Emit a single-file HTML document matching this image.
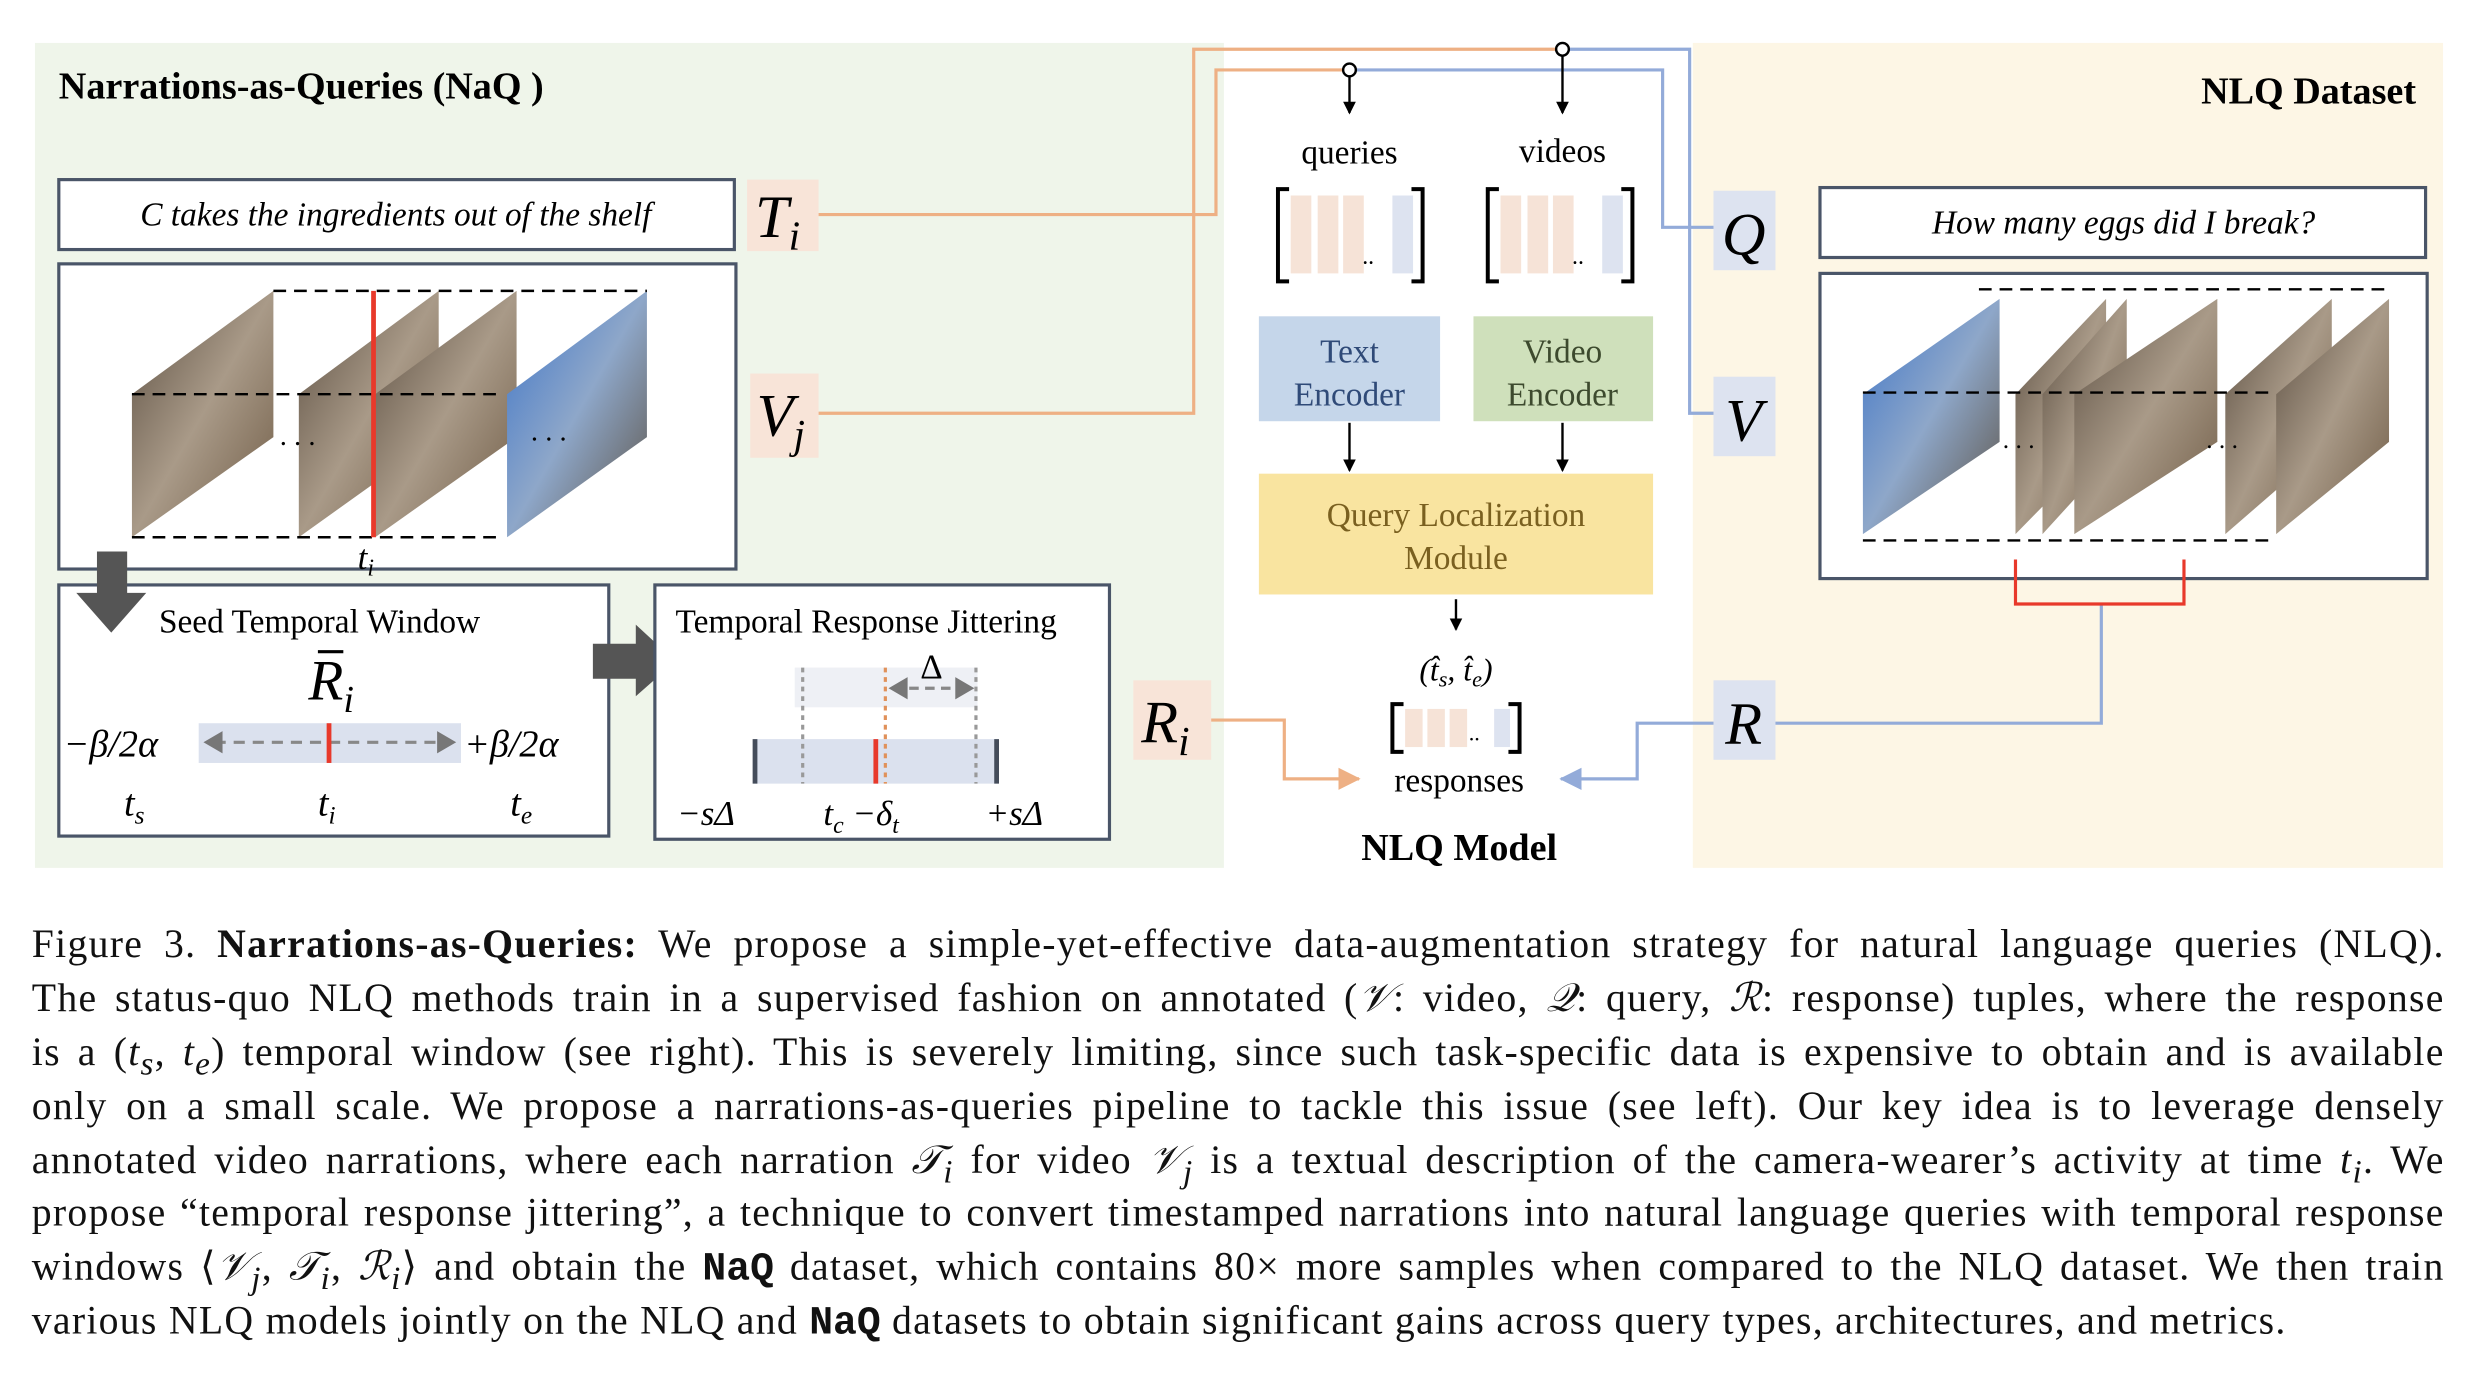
<!DOCTYPE html>
<html><head><meta charset="utf-8"><style>
html,body{margin:0;padding:0;background:#fff;overflow:hidden;width:2492px;height:1376px}
#w{position:absolute;left:0;top:0;width:1560px;height:866px;transform:scale(1.5895);transform-origin:0 0}
svg{position:absolute;left:0;top:0}
.cap{position:absolute;left:20px;width:1518px;top:578px;font-family:"Liberation Serif",serif;font-size:25px;letter-spacing:0.8px;color:#111}
.cap div{height:33.9px;line-height:33.9px;text-align:justify;text-align-last:justify;white-space:nowrap}
.cap div.l{text-align-last:left}
.m{font-family:"Liberation Mono",monospace;font-weight:bold;letter-spacing:0}
i{font-style:italic}
</style></head><body><div id="w">
<svg width="1560" height="561" viewBox="0 0 1560 561" font-family="Liberation Serif, serif">
<defs>
<linearGradient id="f1" x1="0" y1="0" x2="1" y2="1"><stop offset="0" stop-color="#5a4d40"/><stop offset=".5" stop-color="#a99a88"/><stop offset="1" stop-color="#6e5a44"/></linearGradient>
<linearGradient id="f2" x1="0" y1="0" x2="1" y2="1"><stop offset="0" stop-color="#3d74c8"/><stop offset=".5" stop-color="#8ea7c9"/><stop offset="1" stop-color="#5b5144"/></linearGradient>
<marker id="ab" markerWidth="8" markerHeight="8" refX="7" refY="4" orient="auto" markerUnits="userSpaceOnUse"><path d="M0,0 L8,4 L0,8z" fill="#000"/></marker>
<marker id="ao" markerWidth="14" markerHeight="14" refX="13" refY="7" orient="auto" markerUnits="userSpaceOnUse"><path d="M0,0 L14,7 L0,14z" fill="#eeb084"/></marker>
<marker id="abl" markerWidth="14" markerHeight="14" refX="13" refY="7" orient="auto" markerUnits="userSpaceOnUse"><path d="M0,0 L14,7 L0,14z" fill="#93abd9"/></marker>
</defs>
<rect x="22" y="27" width="748" height="519" fill="#eff5ea"/>
<rect x="1065" y="27" width="472" height="519" fill="#fdf6e5"/>
<text x="37" y="62" font-size="24" font-weight="bold">Narrations-as-Queries (NaQ )</text>
<text x="1520" y="65" font-size="24" font-weight="bold" text-anchor="end">NLQ Dataset</text>
<text x="918" y="541" font-size="24" font-weight="bold" text-anchor="middle">NLQ Model</text>
<rect x="37" y="113" width="425" height="44" fill="#fff" stroke="#4a5568" stroke-width="2"/>
<text x="249" y="142" font-size="21" font-style="italic" text-anchor="middle">C takes the ingredients out of the shelf</text>
<rect x="37" y="166" width="426" height="192" fill="#fff" stroke="#4a5568" stroke-width="2"/>
<g>
<polygon points="83,248 172,183 172,275 83,338" fill="url(#f1)"/>
<polygon points="188,248 276,183 276,275 188,338" fill="url(#f1)"/>
<polygon points="236,248 325,183 325,275 236,338" fill="url(#f1)"/>
<polygon points="319,248 407,183 407,275 319,338" fill="url(#f2)"/>
<line x1="172" y1="183" x2="407" y2="183" stroke="#000" stroke-width="1.5" stroke-dasharray="8,5"/>
<line x1="83" y1="248" x2="315" y2="248" stroke="#000" stroke-width="1.5" stroke-dasharray="8,5"/>
<line x1="83" y1="338" x2="315" y2="338" stroke="#000" stroke-width="1.5" stroke-dasharray="8,5"/>
<line x1="235" y1="183" x2="235" y2="338" stroke="#e8392b" stroke-width="3"/>
<text x="176" y="280" font-size="18">. . .</text><text x="334" y="277" font-size="18">. . .</text>
<text x="225" y="358" font-size="22" font-style="italic">t<tspan font-size="15" dy="4">i</tspan></text>
</g>
<rect x="470" y="113" width="45" height="45" fill="#f8e4d8"/>
<text x="475" y="149" font-size="38" font-style="italic">T<tspan font-size="26" dy="8">i</tspan></text>
<rect x="472" y="235" width="43" height="53" fill="#f8e4d8"/>
<text x="476" y="274" font-size="38" font-style="italic">V<tspan font-size="26" dy="8">j</tspan></text>
<rect x="713" y="428" width="49" height="50" fill="#f8e4d8"/>
<text x="718" y="467" font-size="38" font-style="italic">R<tspan font-size="26" dy="8">i</tspan></text>
<rect x="1078" y="120" width="39" height="50" fill="#dde3f0"/>
<text x="1097" y="160" font-size="38" font-style="italic" text-anchor="middle">Q</text>
<rect x="1078" y="237" width="39" height="50" fill="#dde3f0"/>
<text x="1097" y="277" font-size="38" font-style="italic" text-anchor="middle">V</text>
<rect x="1078" y="428" width="39" height="50" fill="#dde3f0"/>
<text x="1097" y="468" font-size="38" font-style="italic" text-anchor="middle">R</text>
<polyline points="515,135 765,135 765,44 845,44" fill="none" stroke="#eeb084" stroke-width="2"/>
<polyline points="515,260 751,260 751,31 979,31" fill="none" stroke="#eeb084" stroke-width="2"/>
<polyline points="853,44 1046,44 1046,143 1078,143" fill="none" stroke="#93abd9" stroke-width="2"/>
<polyline points="987,31 1063,31 1063,260 1078,260" fill="none" stroke="#93abd9" stroke-width="2"/>
<circle cx="849" cy="44" r="4" fill="#fff" stroke="#000" stroke-width="1.5"/>
<circle cx="983" cy="31" r="4" fill="#fff" stroke="#000" stroke-width="1.5"/>
<line x1="849" y1="48" x2="849" y2="71" stroke="#000" stroke-width="1.5" marker-end="url(#ab)"/>
<line x1="983" y1="35" x2="983" y2="71" stroke="#000" stroke-width="1.5" marker-end="url(#ab)"/>
<polyline points="762,453 808,453 808,490 855,490" fill="none" stroke="#eeb084" stroke-width="2" marker-end="url(#ao)"/>
<polyline points="1078,455 1030,455 1030,490 982,490" fill="none" stroke="#93abd9" stroke-width="2" marker-end="url(#abl)"/>
<polyline points="1117,455 1322,455 1322,380" fill="none" stroke="#93abd9" stroke-width="2"/>
<text x="849" y="103" font-size="21" text-anchor="middle">queries</text>
<text x="983" y="102" font-size="21" text-anchor="middle">videos</text>
<g id="br1">
<path d="M811,119 H804 V177 H811 M888,119 H895 V177 H888" fill="none" stroke="#000" stroke-width="2.5"/>
<rect x="812" y="123" width="13" height="49" fill="#f6e3d7"/><rect x="829" y="123" width="13" height="49" fill="#f6e3d7"/><rect x="845" y="123" width="13" height="49" fill="#f6e3d7"/>
<text x="857" y="166" font-size="15">..</text>
<rect x="876" y="123" width="13" height="49" fill="#dde3f0"/>
</g>
<use href="#br1" transform="translate(132,0)"/>
<rect x="792" y="199" width="114" height="66" fill="#c5d6ea"/>
<text x="849" y="228" font-size="21" fill="#2f4a78" text-anchor="middle">Text</text>
<text x="849" y="255" font-size="21" fill="#2f4a78" text-anchor="middle">Encoder</text>
<rect x="927" y="199" width="113" height="66" fill="#cfe0bb"/>
<text x="983" y="228" font-size="21" fill="#3d4a2e" text-anchor="middle">Video</text>
<text x="983" y="255" font-size="21" fill="#3d4a2e" text-anchor="middle">Encoder</text>
<line x1="849" y1="266" x2="849" y2="296" stroke="#000" stroke-width="1.5" marker-end="url(#ab)"/>
<line x1="983" y1="266" x2="983" y2="296" stroke="#000" stroke-width="1.5" marker-end="url(#ab)"/>
<rect x="792" y="298" width="248" height="76" fill="#f9e4a0"/>
<text x="916" y="331" font-size="21" fill="#7a6020" text-anchor="middle">Query Localization</text>
<text x="916" y="358" font-size="21" fill="#7a6020" text-anchor="middle">Module</text>
<line x1="916" y1="377" x2="916" y2="396" stroke="#000" stroke-width="1.5" marker-end="url(#ab)"/>
<text x="916" y="428" font-size="20" font-style="italic" text-anchor="middle">(t̂<tspan font-size="14" dy="4">s</tspan><tspan dy="-4">, t̂</tspan><tspan font-size="14" dy="4">e</tspan><tspan dy="-4">)</tspan></text>
<path d="M883,443 H876 V473 H883 M949,443 H956 V473 H949" fill="none" stroke="#000" stroke-width="2.5"/>
<rect x="884" y="446" width="11" height="24" fill="#f6e3d7"/><rect x="898" y="446" width="11" height="24" fill="#f6e3d7"/><rect x="912" y="446" width="11" height="24" fill="#f6e3d7"/>
<text x="924" y="466" font-size="14">..</text><rect x="940" y="446" width="10" height="24" fill="#dde3f0"/>
<text x="918" y="498" font-size="21" text-anchor="middle">responses</text>
<rect x="1145" y="118" width="381" height="44" fill="#fff" stroke="#4a5568" stroke-width="2"/>
<text x="1336" y="147" font-size="21" font-style="italic" text-anchor="middle">How many eggs did I break?</text>
<rect x="1145" y="172" width="382" height="192" fill="#fff" stroke="#4a5568" stroke-width="2"/>
<polygon points="1172,248 1258,188 1258,278 1172,336" fill="url(#f2)"/>
<polygon points="1268,248 1325,188 1325,278 1268,336" fill="url(#f1)"/>
<polygon points="1285,248 1338,188 1338,278 1285,336" fill="url(#f1)"/>
<polygon points="1305,248 1395,188 1395,278 1305,336" fill="url(#f1)"/>
<polygon points="1400,248 1467,188 1467,278 1400,336" fill="url(#f1)"/>
<polygon points="1432,248 1503,188 1503,278 1432,336" fill="url(#f1)"/>
<line x1="1245" y1="182" x2="1500" y2="182" stroke="#000" stroke-width="1.5" stroke-dasharray="8,5"/>
<line x1="1172" y1="247" x2="1430" y2="247" stroke="#000" stroke-width="1.5" stroke-dasharray="8,5"/>
<line x1="1172" y1="340" x2="1430" y2="340" stroke="#000" stroke-width="1.5" stroke-dasharray="8,5"/>
<text x="1260" y="282" font-size="16">. . .</text><text x="1388" y="282" font-size="16">. . .</text>
<polyline points="1268,352 1268,380 1374,380 1374,352" fill="none" stroke="#e8392b" stroke-width="2"/>
<rect x="37" y="368" width="346" height="158" fill="#fff" stroke="#4a5568" stroke-width="2"/>
<polygon points="61,347 80,347 80,373 92,373 70,398 48,373 61,373" fill="#555"/>
<text x="100" y="398" font-size="21">Seed Temporal Window</text>
<text x="194" y="440" font-size="36" font-style="italic">R<tspan font-size="24" dy="8">i</tspan></text>
<line x1="200" y1="410" x2="216" y2="410" stroke="#000" stroke-width="2"/>
<rect x="125" y="455" width="165" height="25" fill="#dbe1ee"/>
<line x1="135" y1="467" x2="282" y2="467" stroke="#888" stroke-width="2" stroke-dasharray="7,5"/>
<path d="M128,467 L140,460 L140,474z M287,467 L275,460 L275,474z" fill="#777"/>
<line x1="207" y1="455" x2="207" y2="480" stroke="#e8392b" stroke-width="3"/>
<text x="40" y="476" font-size="24" font-style="italic">−β/2α</text>
<text x="292" y="476" font-size="24" font-style="italic">+β/2α</text>
<text x="78" y="513" font-size="24" font-style="italic">t<tspan font-size="16" dy="5">s</tspan></text>
<text x="200" y="513" font-size="24" font-style="italic">t<tspan font-size="16" dy="5">i</tspan></text>
<text x="321" y="513" font-size="24" font-style="italic">t<tspan font-size="16" dy="5">e</tspan></text>
<polygon points="373,405 400,405 400,393 425,416 400,438 400,427 373,427" fill="#555"/>
<rect x="412" y="368" width="286" height="160" fill="#fff" stroke="#4a5568" stroke-width="2"/>
<text x="425" y="398" font-size="21">Temporal Response Jittering</text>
<rect x="500" y="420" width="115" height="25" fill="#eef0f5"/>
<rect x="474" y="465" width="154" height="28" fill="#dbe1ee"/>
<line x1="475" y1="465" x2="475" y2="493" stroke="#444c5a" stroke-width="3"/>
<line x1="627" y1="465" x2="627" y2="493" stroke="#444c5a" stroke-width="3"/>
<line x1="505" y1="420" x2="505" y2="493" stroke="#999" stroke-width="2" stroke-dasharray="3,3"/>
<line x1="614" y1="420" x2="614" y2="493" stroke="#999" stroke-width="2" stroke-dasharray="3,3"/>
<line x1="557" y1="420" x2="557" y2="493" stroke="#e0915a" stroke-width="2" stroke-dasharray="3,3"/>
<line x1="551" y1="465" x2="551" y2="493" stroke="#e8392b" stroke-width="3"/>
<line x1="562" y1="433" x2="611" y2="433" stroke="#888" stroke-width="2" stroke-dasharray="6,4"/>
<path d="M559,433 L571,426 L571,440z M613,433 L601,426 L601,440z" fill="#777"/>
<text x="586" y="427" font-size="22" text-anchor="middle">Δ</text>
<text x="426" y="519" font-size="22" font-style="italic">−sΔ</text>
<text x="518" y="519" font-size="22" font-style="italic">t<tspan font-size="15" dy="5">c</tspan><tspan dy="-5"> −δ</tspan><tspan font-size="15" dy="5">t</tspan></text>
<text x="620" y="519" font-size="22" font-style="italic">+sΔ</text>
</svg>
<div class="cap">
<div>Figure 3. <b>Narrations-as-Queries:</b> We propose a simple-yet-effective data-augmentation strategy for natural language queries (NLQ).</div>
<div>The status-quo NLQ methods train in a supervised fashion on annotated (<i>𝒱</i>: video, <i>𝒬</i>: query, <i>ℛ</i>: response) tuples, where the response</div>
<div>is a (<i>t<sub>s</sub></i>, <i>t<sub>e</sub></i>) temporal window (see right). This is severely limiting, since such task-specific data is expensive to obtain and is available</div>
<div>only on a small scale. We propose a narrations-as-queries pipeline to tackle this issue (see left). Our key idea is to leverage densely</div>
<div>annotated video narrations, where each narration <i>𝒯<sub>i</sub></i> for video <i>𝒱<sub>j</sub></i> is a textual description of the camera-wearer’s activity at time <i>t<sub>i</sub></i>. We</div>
<div>propose “temporal response jittering”, a technique to convert timestamped narrations into natural language queries with temporal response</div>
<div>windows ⟨<i>𝒱<sub>j</sub></i>, <i>𝒯<sub>i</sub></i>, <i>ℛ<sub>i</sub></i>⟩ and obtain the <span class="m">NaQ</span> dataset, which contains 80× more samples when compared to the NLQ dataset. We then train</div>
<div class="l">various NLQ models jointly on the NLQ and <span class="m">NaQ</span> datasets to obtain significant gains across query types, architectures, and metrics.</div>
</div>
</div></body></html>
